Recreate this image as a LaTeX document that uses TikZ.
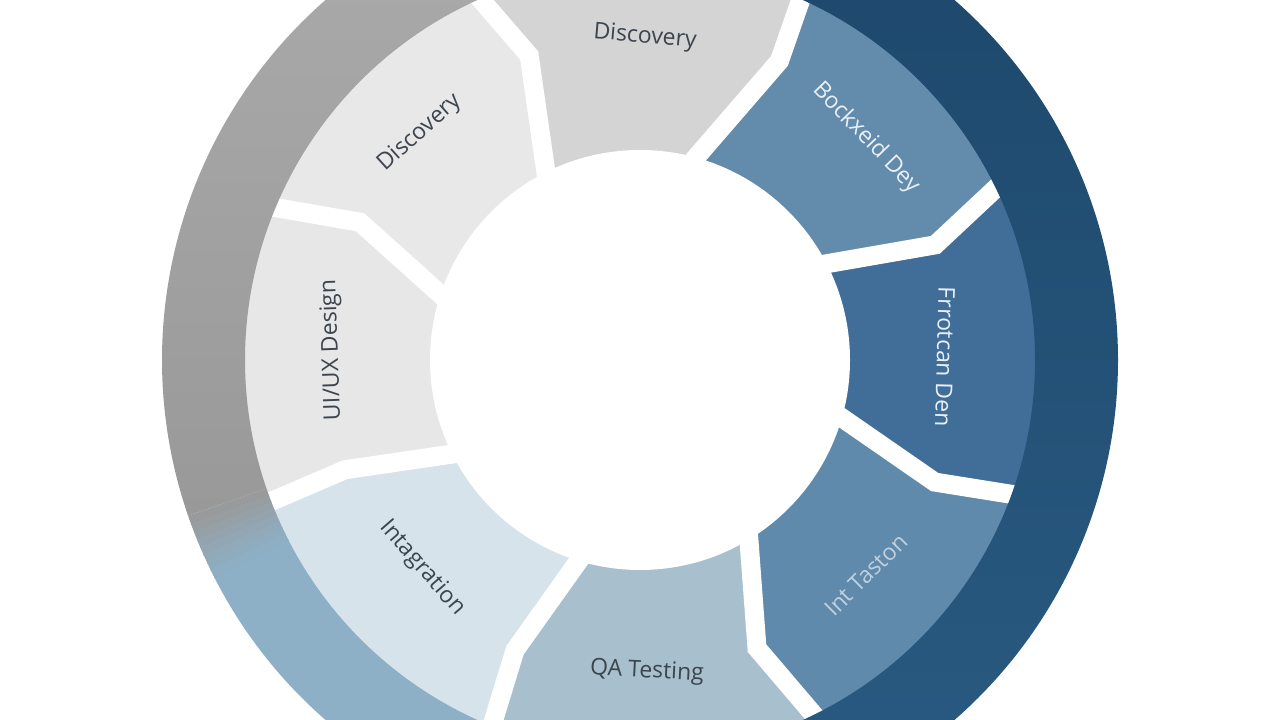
\documentclass[tikz,border=0pt]{standalone}
\usepackage{fontspec}
\setmainfont{Open Sans}
\usetikzlibrary{calc}
\definecolor{segTop}{HTML}{D4D4D4}
\definecolor{segUL}{HTML}{E8E8E8}
\definecolor{segUI}{HTML}{E7E7E7}
\definecolor{segInt}{HTML}{D6E3EA}
\definecolor{segQA}{HTML}{A8BFCE}
\definecolor{segIT}{HTML}{608AAC}
\definecolor{segFE}{HTML}{406E98}
\definecolor{segBE}{HTML}{638BAC}
\definecolor{ringGrayA}{HTML}{ABABAB}
\definecolor{ringGrayB}{HTML}{999999}
\definecolor{ringBlueA}{HTML}{1D476B}
\definecolor{ringBlueB}{HTML}{2A5B82}
\definecolor{ringLight}{HTML}{8DB0C7}
\definecolor{txtDark}{HTML}{3C444E}
\definecolor{txtLight}{HTML}{E8F0F6}
\definecolor{txtPale}{HTML}{BED0DE}
\begin{document}
\begin{tikzpicture}[x=1pt,y=1pt,
  gapline/.style={draw=white,line width=19pt,line join=miter},
  lbl/.style={font=\fontsize{23}{27}\selectfont,inner sep=0pt},
  dk/.style={lbl,text=txtDark},
  lt/.style={lbl,text=txtLight},
  pl/.style={lbl,text=txtPale}]
\useasboundingbox (0,0) rectangle (1280,720);
\clip (0,0) rectangle (1280,720);
\fill[white] (0,0) rectangle (1280,720);
\begin{scope}[shift={(640,360)}]
  % gap polylines: inner, bend, outer
  \foreach \n/\ai/\ab/\rb/\ao in {A/116/110/324/114, B/73.7/65/330/66, C/26.7/21.3/317/25.9, D/-16.6/-22.5/319/-19.8, E/-59.7/-67.9/311/-63.8, F/-107.6/-113.3/316/-112, G/206/200.4/315/201, H/161/153.8/312/157.4}{
    \coordinate (I\n) at (\ai:217);
    \coordinate (B\n) at (\ab:\rb);
    \coordinate (O\n) at (\ao:398);
    \coordinate (X\n) at ($(B\n)!1.35!(I\n)$);
    \coordinate (E\n) at ($(B\n)!1.7!(O\n)$);
  }
  % segments
  \fill[segTop] (XA) -- (BA) -- (EA) -- (90:455) -- (EB) -- (BB) -- (XB) -- cycle;
  \fill[segBE] (XB) -- (BB) -- (EB) -- (46:455) -- (EC) -- (BC) -- (XC) -- cycle;
  \fill[segFE] (XC) -- (BC) -- (EC) -- (3:455) -- (ED) -- (BD) -- (XD) -- cycle;
  \fill[segIT] (XD) -- (BD) -- (ED) -- (-41.8:455) -- (EE) -- (BE) -- (XE) -- cycle;
  \fill[segQA] (XE) -- (BE) -- (EE) -- (-87.9:455) -- (EF) -- (BF) -- (XF) -- cycle;
  \fill[segInt] (XF) -- (BF) -- (EF) -- (-135.5:455) -- (EG) -- (BG) -- (XG) -- cycle;
  \fill[segUI] (XG) -- (BG) -- (EG) -- (179.2:455) -- (EH) -- (BH) -- (XH) -- cycle;
  \fill[segUL] (XH) -- (BH) -- (EH) -- (135.7:455) -- (EA) -- (BA) -- (XA) -- cycle;
  % white gaps
  \foreach \n in {A,B,C,D,E,F,G,H}{
    \draw[gapline] (X\n) -- (B\n) -- (E\n);
  }
  % outer ring
  \shade[top color=ringBlueA,bottom color=ringBlueB]
    (90:478) arc[start angle=90,end angle=-90,radius=478]
    -- (-90:395) arc[start angle=-90,end angle=90,radius=395] -- cycle;
  \shade[top color=ringGrayA,bottom color=ringGrayB]
    (90:478) arc[start angle=90,end angle=199,radius=478]
    -- (199:395) arc[start angle=199,end angle=90,radius=395] -- cycle;
  \fill[ringLight]
    (207:478) arc[start angle=207,end angle=270,radius=478]
    -- (270:395) arc[start angle=270,end angle=207,radius=395] -- cycle;
  % soft blend between grey and light blue
  \foreach \k in {0,...,7}{
    \pgfmathsetmacro{\aa}{199+\k}
    \pgfmathsetmacro{\bb}{200.2+\k}
    \pgfmathsetmacro{\pp}{100-12.5*\k-6}
    \fill[ringGrayB!\pp!ringLight]
      (\aa:478) arc[start angle=\aa,end angle=\bb,radius=478]
      -- (\bb:395) arc[start angle=\bb,end angle=\aa,radius=395] -- cycle;
  }
  % centre
  \fill[white] (0,0) circle (210);
  % labels
  \node[dk,rotate=-5] (ltop) at (5,323) {Discovery};
  \node[dk,rotate=42] (lul) at (-220,227) {Discovery};
  \node[lt,rotate=-46] (lbe) at (226,222) {Bockxeid Dey};
  \node[lt,rotate=-91.5] (lfe) at (305,3) {Frrotcan Den};
  \node[pl,rotate=45] (lit) at (226,-215) {Int Taston};
  \node[dk,rotate=-3] (lqa) at (7,-312) {QA Testing};
  \node[dk,rotate=-49] (lint) at (-218,-208) {Intagration};
  \node[dk,rotate=92] (lui) at (-308,10) {UI/UX Design};
\end{scope}
\end{tikzpicture}
\end{document}
